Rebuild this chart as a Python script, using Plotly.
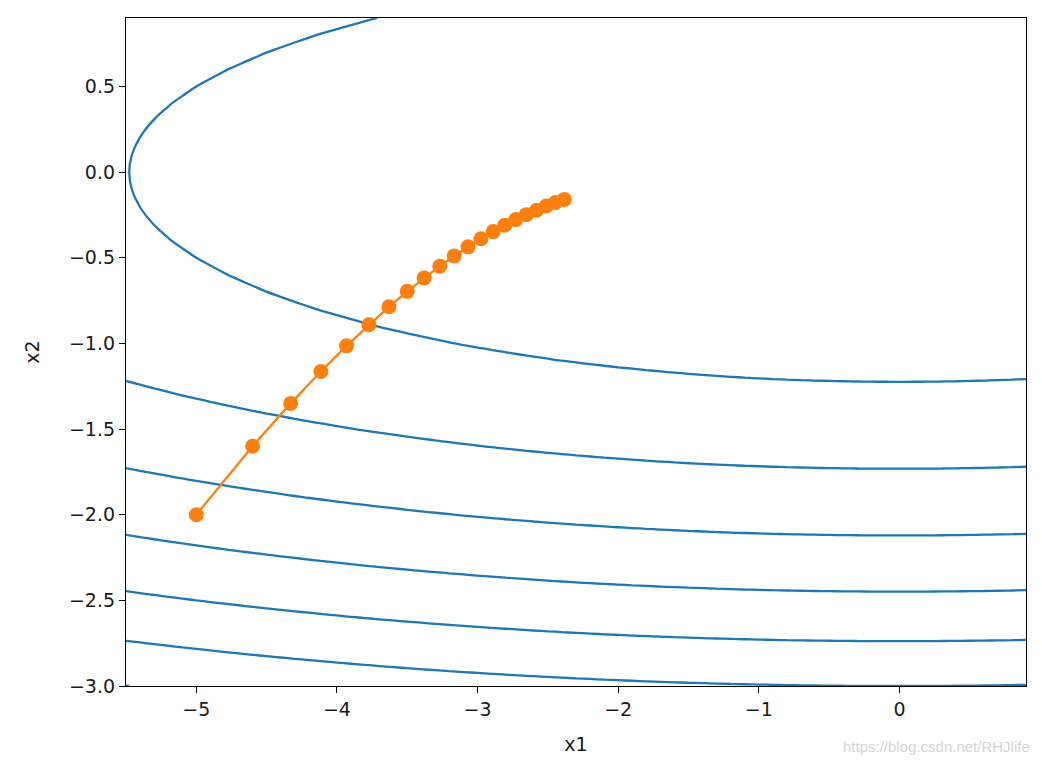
import numpy as np
import plotly.graph_objects as go

# Trajectory (Adagrad, eta=0.4) read/computed points
traj_x1 = [-5.0, -4.6, -4.329, -4.114, -3.932, -3.773, -3.630, -3.500, -3.380, -3.269,
           -3.166, -3.068, -2.976, -2.889, -2.807, -2.728, -2.653, -2.581, -2.512, -2.446, -2.383]
traj_x2 = [-2.0, -1.6, -1.350, -1.164, -1.014, -0.891, -0.786, -0.696, -0.618, -0.549,
           -0.489, -0.436, -0.389, -0.347, -0.310, -0.277, -0.248, -0.222, -0.198, -0.177, -0.159]

# Contour grid of f(x1, x2) = 0.1*x1^2 + 2*x2^2
coef_x1 = 0.1
coef_x2 = 2.0
grid_x1 = np.round(np.arange(-5.5, 1.0, 0.1), 2)
grid_x2 = np.round(np.arange(-3.0, 1.0, 0.1), 2)
levels = [3, 6, 9, 12, 15, 18, 21]

X1, X2 = np.meshgrid(grid_x1, grid_x2)
Z = coef_x1 * X1 ** 2 + coef_x2 * X2 ** 2

x_ticks = [-5, -4, -3, -2, -1, 0]
y_ticks = [-3.0, -2.5, -2.0, -1.5, -1.0, -0.5, 0.0, 0.5]

blue = "#1f77b4"
orange = "#ff7f0e"

fig = go.Figure()
fig.add_trace(go.Contour(
    x=grid_x1, y=grid_x2, z=Z,
    contours=dict(coloring="lines", start=levels[0], end=levels[-1],
                  size=levels[1] - levels[0], showlabels=False),
    colorscale=[[0, blue], [1, blue]],
    line=dict(width=2.3, smoothing=1.3),
    showscale=False, hoverinfo="skip",
))
fig.add_trace(go.Scatter(
    x=traj_x1, y=traj_x2, mode="lines+markers",
    line=dict(color=orange, width=2.3),
    marker=dict(color=orange, size=15),
    showlegend=False,
))

font = dict(family="DejaVu Sans", size=19, color="#1a1a1a")
fig.update_layout(
    width=1042, height=762,
    margin=dict(l=126, r=16, t=18, b=76),
    paper_bgcolor="white", plot_bgcolor="white",
    font=font,
    showlegend=False,
)
fig.update_xaxes(
    range=[-5.5, 0.9], tickvals=x_ticks, ticktext=[str(v).replace("-", "\u2212") for v in x_ticks],
    showgrid=False, zeroline=False, showline=True, linecolor="black", linewidth=1.3,
    mirror=True, ticks="outside", ticklen=6, tickwidth=1.3, tickcolor="black",
    title=dict(text="x1", font=font, standoff=18),
)
fig.update_yaxes(
    range=[-3.0, 0.9], tickvals=y_ticks,
    ticktext=[f"{v:.1f}".replace("-", "\u2212") for v in y_ticks],
    showgrid=False, zeroline=False, showline=True, linecolor="black", linewidth=1.3,
    mirror=True, ticks="outside", ticklen=6, tickwidth=1.3, tickcolor="black",
    title=dict(text="x2", font=font, standoff=24),
)
fig.add_annotation(
    text="https://blog.csdn.net/RHJlife", xref="paper", yref="paper",
    x=1.0, y=0, xanchor="right", yanchor="top", yshift=-50, xshift=6,
    showarrow=False, font=dict(family="Liberation Sans", size=15, color="#d4d4d4"),
)

fig.write_html(
    "out.html",
    config={"displayModeBar": False},
    post_script="document.body.style.margin='0';document.body.style.overflow='hidden';",
)
